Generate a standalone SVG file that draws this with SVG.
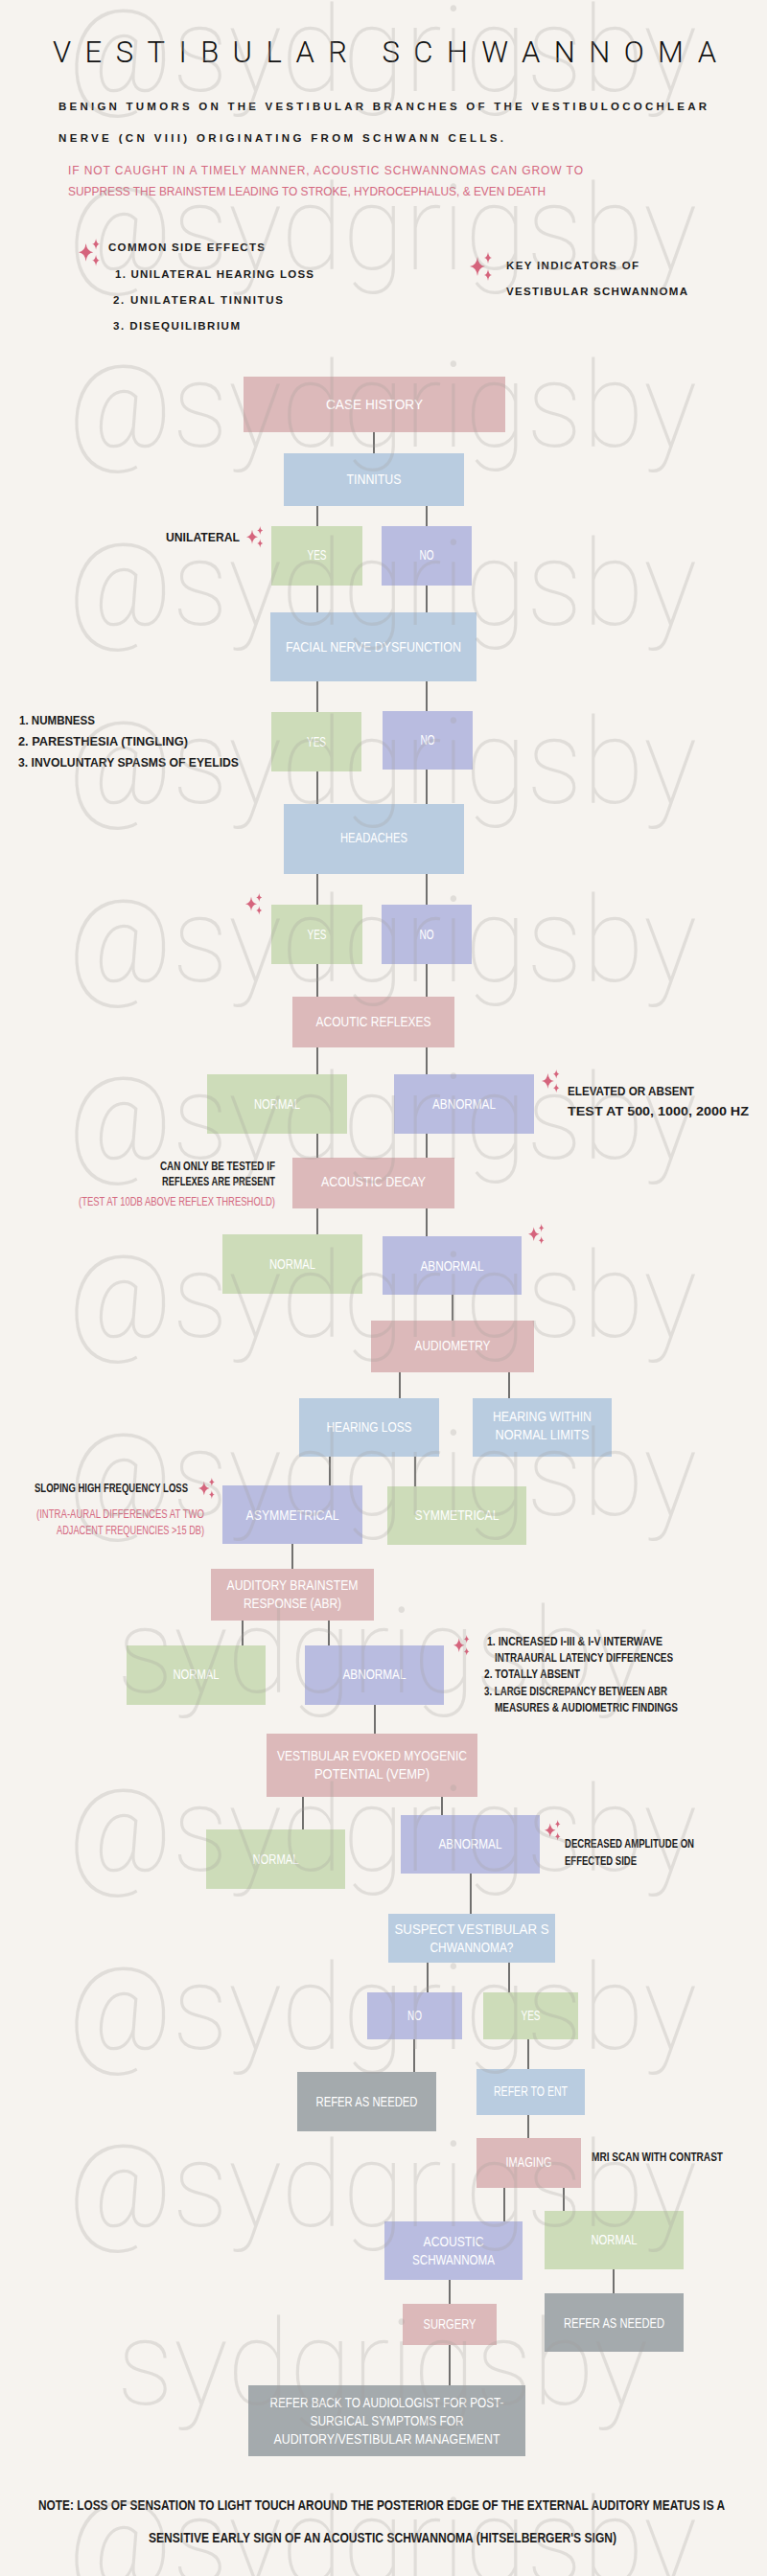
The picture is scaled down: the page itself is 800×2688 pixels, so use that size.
<svg xmlns="http://www.w3.org/2000/svg" xmlns:xlink="http://www.w3.org/1999/xlink" width="800" height="2688" viewBox="0 0 800 2688">
<style>
.pk{fill:#dcb9ba}.bl{fill:#b9cce0}.gr{fill:#cddcb9}.lv{fill:#b9bce0}.gy{fill:#a4aaad}
.lbl{font-family:"Liberation Sans Narrow","Liberation Sans",Arial,sans-serif;font-size:15px;fill:#ffffff;text-anchor:middle}
.ann{font-family:"Liberation Sans Narrow","Liberation Sans",Arial,sans-serif;font-size:12.5px;font-weight:700;fill:#1a1a1a}
.hdr{font-family:"Liberation Sans",Arial,sans-serif;font-size:11.5px;font-weight:700;fill:#1a1a1a}
.red{font-family:"Liberation Sans Narrow","Liberation Sans",Arial,sans-serif;font-size:12px;font-weight:400;fill:#d4687f}
.end{text-anchor:end}
.ttl{font-family:Roboto,"Liberation Sans",sans-serif;font-weight:300;font-size:31px;fill:#111111}
.note{font-family:"Liberation Sans Narrow","Liberation Sans",Arial,sans-serif;font-size:14.5px;font-weight:700;fill:#1a1a1a;text-anchor:middle}
#connectors line{stroke:#2a2a2a;stroke-width:1.3}
.spk{fill:#d5647c}
.wm{font-family:Roboto,Lato,sans-serif;font-weight:100;font-size:125px;fill:#a29e9a;opacity:0.25}
</style>
<defs>
<g id="spk" class="spk">
<path d="M8 5 Q9 14 16 15 Q9 16 8 25 Q7 16 0 15 Q7 14 8 5 Z"/>
<path d="M19 0 Q19.6 5.4 23 6 Q19.6 6.6 19 12 Q18.4 6.6 15 6 Q18.4 5.4 19 0 Z"/>
<path d="M19 18 Q19.6 23.4 23 24 Q19.6 24.6 19 30 Q18.4 24.6 15 24 Q18.4 23.4 19 18 Z"/>
</g>
</defs>
<rect x="0" y="0" width="800" height="2688" fill="#f6f3ef"/>

<g id="header">
<text class="ttl" x="55" y="65" textLength="692" lengthAdjust="spacing">VESTIBULAR SCHWANNOMA</text>
<text class="hdr" x="61" y="115" textLength="676" lengthAdjust="spacing">BENIGN TUMORS ON THE VESTIBULAR BRANCHES OF THE VESTIBULOCOCHLEAR</text>
<text class="hdr" x="61" y="148" textLength="464" lengthAdjust="spacing">NERVE (CN VIII) ORIGINATING FROM SCHWANN CELLS.</text>
<text class="red" x="71" y="182" textLength="537" lengthAdjust="spacing">IF NOT CAUGHT IN A TIMELY MANNER, ACOUSTIC SCHWANNOMAS CAN GROW TO</text>
<text class="red" x="71" y="204" textLength="498" lengthAdjust="spacingAndGlyphs">SUPPRESS THE BRAINSTEM LEADING TO STROKE, HYDROCEPHALUS, &amp; EVEN DEATH</text>
</g>

<g id="side-effects">
<use xlink:href="#spk" href="#spk" transform="translate(82,249) scale(0.95)"/>
<text class="hdr" x="113" y="262" textLength="163" lengthAdjust="spacing">COMMON SIDE EFFECTS</text>
<text class="hdr" x="120" y="290" textLength="207" lengthAdjust="spacing">1. UNILATERAL HEARING LOSS</text>
<text class="hdr" x="118" y="317" textLength="177" lengthAdjust="spacing">2. UNILATERAL TINNITUS</text>
<text class="hdr" x="118" y="344" textLength="132" lengthAdjust="spacing">3. DISEQUILIBRIUM</text>
</g>

<g id="key-indicators">
<use xlink:href="#spk" href="#spk" transform="translate(490,263)"/>
<text class="hdr" x="528" y="281" textLength="138" lengthAdjust="spacing">KEY INDICATORS OF</text>
<text class="hdr" x="528" y="308" textLength="189" lengthAdjust="spacing">VESTIBULAR SCHWANNOMA</text>
</g>

<g id="connectors">
<line x1="390" y1="451" x2="390" y2="473"/>
<line x1="331" y1="528" x2="331" y2="549"/><line x1="445" y1="528" x2="445" y2="549"/>
<line x1="331" y1="611" x2="331" y2="639"/><line x1="445" y1="611" x2="445" y2="639"/>
<line x1="331" y1="711" x2="331" y2="743"/><line x1="445" y1="711" x2="445" y2="742"/>
<line x1="331" y1="805" x2="331" y2="839"/><line x1="445" y1="803" x2="445" y2="839"/>
<line x1="331" y1="912" x2="331" y2="944"/><line x1="445" y1="912" x2="445" y2="944"/>
<line x1="331" y1="1006" x2="331" y2="1040"/><line x1="445" y1="1006" x2="445" y2="1040"/>
<line x1="331" y1="1093" x2="331" y2="1121"/><line x1="445" y1="1093" x2="445" y2="1121"/>
<line x1="331" y1="1183" x2="331" y2="1208"/><line x1="445" y1="1183" x2="445" y2="1208"/>
<line x1="331" y1="1261" x2="331" y2="1288"/><line x1="445" y1="1261" x2="445" y2="1290"/>
<line x1="472" y1="1351" x2="472" y2="1378"/>
<line x1="417" y1="1432" x2="417" y2="1459"/><line x1="531" y1="1432" x2="531" y2="1459"/>
<line x1="344" y1="1520" x2="344" y2="1550"/><line x1="433" y1="1520" x2="433" y2="1551"/>
<line x1="305" y1="1611" x2="305" y2="1637"/>
<line x1="253" y1="1691" x2="253" y2="1717"/><line x1="343" y1="1691" x2="343" y2="1717"/>
<line x1="391" y1="1779" x2="391" y2="1809"/>
<line x1="316" y1="1875" x2="316" y2="1909"/><line x1="461" y1="1875" x2="461" y2="1894"/>
<line x1="491" y1="1955" x2="491" y2="1997"/>
<line x1="446" y1="2048" x2="446" y2="2079"/><line x1="531" y1="2048" x2="531" y2="2079"/>
<line x1="432" y1="2128" x2="432" y2="2162"/>
<line x1="551" y1="2128" x2="551" y2="2159"/>
<line x1="551" y1="2207" x2="551" y2="2231"/>
<line x1="526" y1="2283" x2="526" y2="2318"/><line x1="588" y1="2283" x2="588" y2="2307"/>
<line x1="469" y1="2379" x2="469" y2="2404"/>
<line x1="640" y1="2368" x2="640" y2="2393"/>
<line x1="469" y1="2447" x2="469" y2="2489"/>
</g>

<g id="case-history"><rect class="pk" x="254" y="393" width="273" height="58"/><text class="lbl" x="390.5" y="427" textLength="101" lengthAdjust="spacingAndGlyphs">CASE HISTORY</text></g>
<g id="tinnitus"><rect class="bl" x="296" y="473" width="188" height="55"/><text class="lbl" x="390" y="505" textLength="57" lengthAdjust="spacingAndGlyphs">TINNITUS</text></g>
<g id="tinnitus-yes"><rect class="gr" x="283" y="549" width="95" height="62"/><text class="lbl" x="330.5" y="584" textLength="20" lengthAdjust="spacingAndGlyphs">YES</text></g>
<g id="tinnitus-no"><rect class="lv" x="398" y="549" width="94" height="62"/><text class="lbl" x="445" y="584" textLength="15" lengthAdjust="spacingAndGlyphs">NO</text></g>
<g id="unilateral-note"><text class="ann end" x="250" y="565" textLength="77" lengthAdjust="spacingAndGlyphs">UNILATERAL</text><use xlink:href="#spk" href="#spk" transform="translate(257,549) scale(0.75)"/></g>

<g id="facial-nerve"><rect class="bl" x="282" y="639" width="215" height="72"/><text class="lbl" x="389.5" y="680" textLength="183" lengthAdjust="spacingAndGlyphs">FACIAL NERVE DYSFUNCTION</text></g>
<g id="facial-yes"><rect class="gr" x="283" y="743" width="94" height="62"/><text class="lbl" x="330" y="779" textLength="20" lengthAdjust="spacingAndGlyphs">YES</text></g>
<g id="facial-no"><rect class="lv" x="399" y="742" width="94" height="61"/><text class="lbl" x="446" y="777" textLength="15" lengthAdjust="spacingAndGlyphs">NO</text></g>
<g id="facial-note">
<text class="ann" x="20" y="756" textLength="79" lengthAdjust="spacingAndGlyphs">1. NUMBNESS</text>
<text class="ann" x="19" y="778" textLength="177" lengthAdjust="spacingAndGlyphs">2. PARESTHESIA (TINGLING)</text>
<text class="ann" x="19" y="800" textLength="230" lengthAdjust="spacingAndGlyphs">3. INVOLUNTARY SPASMS OF EYELIDS</text>
</g>

<g id="headaches"><rect class="bl" x="296" y="839" width="188" height="73"/><text class="lbl" x="390" y="879" textLength="70" lengthAdjust="spacingAndGlyphs">HEADACHES</text></g>
<g id="headaches-yes"><rect class="gr" x="283" y="944" width="95" height="62"/><text class="lbl" x="330.5" y="980" textLength="20" lengthAdjust="spacingAndGlyphs">YES</text></g>
<g id="headaches-no"><rect class="lv" x="398" y="944" width="94" height="62"/><text class="lbl" x="445" y="980" textLength="15" lengthAdjust="spacingAndGlyphs">NO</text></g>
<g id="headaches-spark"><use xlink:href="#spk" href="#spk" transform="translate(256,932) scale(0.75)"/></g>

<g id="acoustic-reflexes"><rect class="pk" x="305" y="1040" width="169" height="53"/><text class="lbl" x="389.5" y="1071" textLength="120" lengthAdjust="spacingAndGlyphs">ACOUTIC REFLEXES</text></g>
<g id="reflex-normal"><rect class="gr" x="216" y="1121" width="146" height="62"/><text class="lbl" x="289" y="1157" textLength="48" lengthAdjust="spacingAndGlyphs">NORMAL</text></g>
<g id="reflex-abnormal"><rect class="lv" x="411" y="1121" width="146" height="62"/><text class="lbl" x="484" y="1157" textLength="66" lengthAdjust="spacingAndGlyphs">ABNORMAL</text></g>
<g id="reflex-note">
<use xlink:href="#spk" href="#spk" transform="translate(565,1116) scale(0.8)"/>
<text class="ann" x="592" y="1143" textLength="132" lengthAdjust="spacingAndGlyphs">ELEVATED OR ABSENT</text>
<text class="ann" x="592" y="1164" textLength="189" lengthAdjust="spacingAndGlyphs">TEST AT 500, 1000, 2000 HZ</text>
</g>

<g id="acoustic-decay"><rect class="pk" x="305" y="1208" width="169" height="53"/><text class="lbl" x="389.5" y="1238" textLength="109" lengthAdjust="spacingAndGlyphs">ACOUSTIC DECAY</text></g>
<g id="decay-note">
<text class="ann end" x="287" y="1221" textLength="120" lengthAdjust="spacingAndGlyphs">CAN ONLY BE TESTED IF</text>
<text class="ann end" x="287" y="1237" textLength="118" lengthAdjust="spacingAndGlyphs">REFLEXES ARE PRESENT</text>
<text class="red end" x="287" y="1258" textLength="205" lengthAdjust="spacingAndGlyphs">(TEST AT 10DB ABOVE REFLEX THRESHOLD)</text>
</g>
<g id="decay-normal"><rect class="gr" x="232" y="1288" width="146" height="62"/><text class="lbl" x="305" y="1324" textLength="48" lengthAdjust="spacingAndGlyphs">NORMAL</text></g>
<g id="decay-abnormal"><rect class="lv" x="399" y="1290" width="145" height="61"/><text class="lbl" x="471.5" y="1326" textLength="66" lengthAdjust="spacingAndGlyphs">ABNORMAL</text></g>
<g id="decay-spark"><use xlink:href="#spk" href="#spk" transform="translate(551,1277) scale(0.72)"/></g>

<g id="audiometry"><rect class="pk" x="387" y="1378" width="170" height="54"/><text class="lbl" x="472" y="1409" textLength="79" lengthAdjust="spacingAndGlyphs">AUDIOMETRY</text></g>
<g id="hearing-loss"><rect class="bl" x="312" y="1459" width="146" height="61"/><text class="lbl" x="385" y="1494" textLength="89" lengthAdjust="spacingAndGlyphs">HEARING LOSS</text></g>
<g id="hearing-wnl"><rect class="bl" x="493" y="1459" width="145" height="61"/><text class="lbl" x="565.5" y="1483" textLength="103" lengthAdjust="spacingAndGlyphs">HEARING WITHIN</text><text class="lbl" x="565.5" y="1502" textLength="98" lengthAdjust="spacingAndGlyphs">NORMAL LIMITS</text></g>
<g id="asymmetrical"><rect class="lv" x="232" y="1550" width="146" height="61"/><text class="lbl" x="305" y="1586" textLength="97" lengthAdjust="spacingAndGlyphs">ASYMMETRICAL</text></g>
<g id="symmetrical"><rect class="gr" x="404" y="1551" width="145" height="61"/><text class="lbl" x="476.5" y="1586" textLength="88" lengthAdjust="spacingAndGlyphs">SYMMETRICAL</text></g>
<g id="asym-note">
<text class="ann" x="36" y="1557" textLength="160" lengthAdjust="spacingAndGlyphs">SLOPING HIGH FREQUENCY LOSS</text>
<use xlink:href="#spk" href="#spk" transform="translate(207,1542) scale(0.73)"/>
<text class="red end" x="213" y="1584" textLength="175" lengthAdjust="spacingAndGlyphs">(INTRA-AURAL DIFFERENCES AT TWO</text>
<text class="red end" x="213" y="1601" textLength="154" lengthAdjust="spacingAndGlyphs">ADJACENT FREQUENCIES &gt;15 DB)</text>
</g>

<g id="abr"><rect class="pk" x="220" y="1637" width="170" height="54"/><text class="lbl" x="305" y="1659" textLength="137" lengthAdjust="spacingAndGlyphs">AUDITORY BRAINSTEM</text><text class="lbl" x="305" y="1678" textLength="102" lengthAdjust="spacingAndGlyphs">RESPONSE (ABR)</text></g>
<g id="abr-normal"><rect class="gr" x="132" y="1717" width="145" height="62"/><text class="lbl" x="204.5" y="1752" textLength="48" lengthAdjust="spacingAndGlyphs">NORMAL</text></g>
<g id="abr-abnormal"><rect class="lv" x="318" y="1717" width="145" height="62"/><text class="lbl" x="390.5" y="1752" textLength="66" lengthAdjust="spacingAndGlyphs">ABNORMAL</text></g>
<g id="abr-note">
<use xlink:href="#spk" href="#spk" transform="translate(473,1706) scale(0.72)"/>
<text class="ann" x="508" y="1717" textLength="183" lengthAdjust="spacingAndGlyphs">1. INCREASED I-III &amp; I-V INTERWAVE</text>
<text class="ann" x="516" y="1734" textLength="186" lengthAdjust="spacingAndGlyphs">INTRAAURAL LATENCY DIFFERENCES</text>
<text class="ann" x="505" y="1751" textLength="100" lengthAdjust="spacingAndGlyphs">2. TOTALLY ABSENT</text>
<text class="ann" x="505" y="1769" textLength="191" lengthAdjust="spacingAndGlyphs">3. LARGE DISCREPANCY BETWEEN ABR</text>
<text class="ann" x="516" y="1786" textLength="191" lengthAdjust="spacingAndGlyphs">MEASURES &amp; AUDIOMETRIC FINDINGS</text>
</g>

<g id="vemp"><rect class="pk" x="278" y="1809" width="220" height="66"/><text class="lbl" x="388" y="1837" textLength="198" lengthAdjust="spacingAndGlyphs">VESTIBULAR EVOKED MYOGENIC</text><text class="lbl" x="388" y="1856" textLength="120" lengthAdjust="spacingAndGlyphs">POTENTIAL (VEMP)</text></g>
<g id="vemp-normal"><rect class="gr" x="215" y="1909" width="145" height="62"/><text class="lbl" x="287.5" y="1945" textLength="48" lengthAdjust="spacingAndGlyphs">NORMAL</text></g>
<g id="vemp-abnormal"><rect class="lv" x="418" y="1894" width="145" height="61"/><text class="lbl" x="490.5" y="1929" textLength="66" lengthAdjust="spacingAndGlyphs">ABNORMAL</text></g>
<g id="vemp-note">
<use xlink:href="#spk" href="#spk" transform="translate(568,1899) scale(0.72)"/>
<text class="ann" x="589" y="1928" textLength="135" lengthAdjust="spacingAndGlyphs">DECREASED AMPLITUDE ON</text>
<text class="ann" x="589" y="1946" textLength="75" lengthAdjust="spacingAndGlyphs">EFFECTED SIDE</text>
</g>

<g id="suspect"><rect class="bl" x="405" y="1997" width="174" height="51"/><text class="lbl" x="492" y="2018" textLength="161" lengthAdjust="spacingAndGlyphs">SUSPECT VESTIBULAR S</text><text class="lbl" x="492" y="2037" textLength="87" lengthAdjust="spacingAndGlyphs">CHWANNOMA?</text></g>
<g id="suspect-no"><rect class="lv" x="383" y="2079" width="99" height="49"/><text class="lbl" x="432.5" y="2108" textLength="15" lengthAdjust="spacingAndGlyphs">NO</text></g>
<g id="suspect-yes"><rect class="gr" x="504" y="2079" width="99" height="49"/><text class="lbl" x="553.5" y="2108" textLength="20" lengthAdjust="spacingAndGlyphs">YES</text></g>
<g id="refer-as-needed-1"><rect class="gy" x="310" y="2162" width="145" height="62"/><text class="lbl" x="382.5" y="2198" textLength="106" lengthAdjust="spacingAndGlyphs">REFER AS NEEDED</text></g>
<g id="refer-ent"><rect class="bl" x="497" y="2159" width="113" height="48"/><text class="lbl" x="553.5" y="2187" textLength="77" lengthAdjust="spacingAndGlyphs">REFER TO ENT</text></g>
<g id="imaging"><rect class="pk" x="497" y="2231" width="109" height="52"/><text class="lbl" x="551.5" y="2261" textLength="48" lengthAdjust="spacingAndGlyphs">IMAGING</text></g>
<g id="imaging-note"><text class="ann" x="617" y="2255" textLength="137" lengthAdjust="spacingAndGlyphs">MRI SCAN WITH CONTRAST</text></g>
<g id="acoustic-schwannoma"><rect class="lv" x="401" y="2318" width="144" height="61"/><text class="lbl" x="473" y="2344" textLength="63" lengthAdjust="spacingAndGlyphs">ACOUSTIC</text><text class="lbl" x="473" y="2363" textLength="86" lengthAdjust="spacingAndGlyphs">SCHWANNOMA</text></g>
<g id="imaging-normal"><rect class="gr" x="568" y="2307" width="145" height="61"/><text class="lbl" x="640.5" y="2342" textLength="48" lengthAdjust="spacingAndGlyphs">NORMAL</text></g>
<g id="surgery"><rect class="pk" x="420" y="2404" width="98" height="43"/><text class="lbl" x="469" y="2430" textLength="55" lengthAdjust="spacingAndGlyphs">SURGERY</text></g>
<g id="refer-as-needed-2"><rect class="gy" x="568" y="2393" width="145" height="61"/><text class="lbl" x="640.5" y="2429" textLength="105" lengthAdjust="spacingAndGlyphs">REFER AS NEEDED</text></g>
<g id="refer-back"><rect class="gy" x="259" y="2489" width="289" height="74"/>
<text class="lbl" x="403.5" y="2512" textLength="244" lengthAdjust="spacingAndGlyphs">REFER BACK TO AUDIOLOGIST FOR POST-</text>
<text class="lbl" x="403.5" y="2531" textLength="160" lengthAdjust="spacingAndGlyphs">SURGICAL SYMPTOMS FOR</text>
<text class="lbl" x="403.5" y="2550" textLength="236" lengthAdjust="spacingAndGlyphs">AUDITORY/VESTIBULAR MANAGEMENT</text></g>

<g id="footnote">
<text class="note" x="398" y="2619" textLength="716" lengthAdjust="spacingAndGlyphs">NOTE: LOSS OF SENSATION TO LIGHT TOUCH AROUND THE POSTERIOR EDGE OF THE EXTERNAL AUDITORY MEATUS IS A</text>
<text class="note" x="399" y="2653" textLength="488" lengthAdjust="spacingAndGlyphs">SENSITIVE EARLY SIGN OF AN ACOUSTIC SCHWANNOMA (HITSELBERGER'S SIGN)</text>
</g>

<g id="watermark">
<text class="wm" x="71" y="95" textLength="656" lengthAdjust="spacingAndGlyphs">@sydgrigsby</text>
<text class="wm" x="71" y="281" textLength="656" lengthAdjust="spacingAndGlyphs">@sydgrigsby</text>
<text class="wm" x="71" y="466" textLength="656" lengthAdjust="spacingAndGlyphs">@sydgrigsby</text>
<text class="wm" x="71" y="652" textLength="656" lengthAdjust="spacingAndGlyphs">@sydgrigsby</text>
<text class="wm" x="71" y="838" textLength="656" lengthAdjust="spacingAndGlyphs">@sydgrigsby</text>
<text class="wm" x="71" y="1024" textLength="656" lengthAdjust="spacingAndGlyphs">@sydgrigsby</text>
<text class="wm" x="71" y="1209" textLength="656" lengthAdjust="spacingAndGlyphs">@sydgrigsby</text>
<text class="wm" x="71" y="1395" textLength="656" lengthAdjust="spacingAndGlyphs">@sydgrigsby</text>
<text class="wm" x="71" y="1581" textLength="656" lengthAdjust="spacingAndGlyphs">@sydgrigsby</text>
<text class="wm" x="122" y="1766" textLength="554" lengthAdjust="spacingAndGlyphs">sydgrigsby</text>
<text class="wm" x="71" y="1952" textLength="656" lengthAdjust="spacingAndGlyphs">@sydgrigsby</text>
<text class="wm" x="71" y="2138" textLength="656" lengthAdjust="spacingAndGlyphs">@sydgrigsby</text>
<text class="wm" x="71" y="2323" textLength="656" lengthAdjust="spacingAndGlyphs">@sydgrigsby</text>
<text class="wm" x="122" y="2509" textLength="554" lengthAdjust="spacingAndGlyphs">sydgrigsby</text>
<text class="wm" x="71" y="2695" textLength="656" lengthAdjust="spacingAndGlyphs">@sydgrigsby</text>
</g>
</svg>
